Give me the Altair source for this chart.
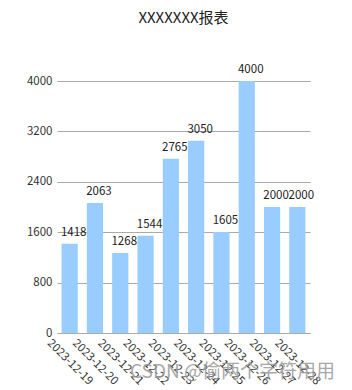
import altair as alt
import pandas as pd

dates = ["2023-12-19", "2023-12-20", "2023-12-21", "2023-12-22", "2023-12-23",
         "2023-12-24", "2023-12-25", "2023-12-26", "2023-12-27", "2023-12-28"]
values = [1418, 2063, 1268, 1544, 2765, 3050, 1605, 4000, 2000, 2000]
y_ticks = [0, 800, 1600, 2400, 3200, 4000]
title_text = "XXXXXXX报表"
watermark = "CSDN @偷两个字符用用"

df = pd.DataFrame({"date": dates, "value": values})
FONT = "Noto Sans CJK SC"

base = alt.Chart(df).encode(
    x=alt.X("date:N", sort=dates,
            scale=alt.Scale(paddingInner=0.36, paddingOuter=0.18),
            axis=alt.Axis(title=None, labelAngle=45, labelAlign="center",
                          labelBaseline="middle", labelPadding=29, ticks=False,
                          tickSize=0, domainColor="#aaaaaa", labelColor="#333333",
                          labelFontSize=11.5, labelFont=FONT, grid=False)),
)

bars = base.mark_bar(color="#99ccff").encode(
    y=alt.Y("value:Q", scale=alt.Scale(domain=[0, 4000], nice=False),
            axis=alt.Axis(title=None, values=y_ticks, format="d", domain=False,
                          ticks=False, tickSize=0, labelPadding=5,
                          gridColor="#aaaaaa", labelColor="#333333",
                          labelFontSize=11.5, labelFont=FONT))
)

labels = base.mark_text(baseline="bottom", dy=-6, dx=4, fontSize=11.5,
                        font=FONT, color="#222222").encode(
    y=alt.Y("value:Q"), text=alt.Text("value:Q")
)

wm = alt.Chart(pd.DataFrame({"t": [watermark]})).mark_text(
    align="left", baseline="middle", fontSize=19, font=FONT,
    color="#9a9a9a", opacity=0.85
).encode(x=alt.value(73), y=alt.value(291), text="t:N")

chart = alt.layer(bars, labels, wm).properties(
    width=253, height=252,
    title=alt.TitleParams(title_text, fontSize=15, font=FONT, color="#222222",
                          fontWeight="normal", anchor="middle", offset=38),
    autosize=alt.AutoSizeParams(type="none"),
    padding={"left": 57, "top": 81, "right": 42, "bottom": 57},
).configure_view(stroke=None)

chart.save("out.html", embed_options={"renderer": "svg", "actions": False})
